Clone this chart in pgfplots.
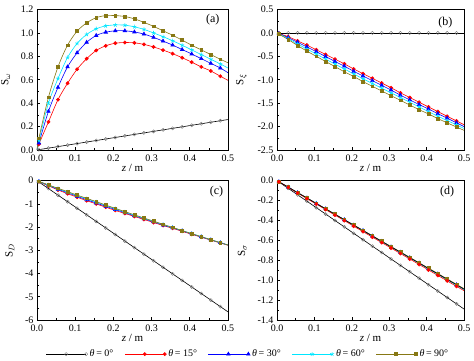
\documentclass[border=0pt]{standalone}
\usepackage{pgfplots}
\pgfplotsset{compat=1.18}
\usepackage{pgfplotstable}
\usepackage{fontspec}
\setmainfont{Liberation Serif}
\definecolor{olv}{RGB}{135,120,20}
\definecolor{cyn}{RGB}{0,230,255}

\pgfplotstableread{
z a0 a15 a30 a60 a90
0 0 0 0 0 0
0.005 0.003 0.05 0.06 0.08 0.10
0.03 0.016 0.24 0.33 0.40 0.45
0.055 0.029 0.43 0.535 0.61 0.71
0.08 0.042 0.57 0.71 0.79 0.895
0.105 0.055 0.69 0.83 0.91 1.015
0.13 0.068 0.78 0.92 0.987 1.086
0.155 0.081 0.85 0.978 1.035 1.13
0.18 0.094 0.89 1.006 1.06 1.148
0.205 0.107 0.912 1.018 1.068 1.148
0.23 0.120 0.918 1.018 1.066 1.14
0.255 0.133 0.915 1.008 1.052 1.12
0.28 0.146 0.902 0.99 1.03 1.09
0.305 0.159 0.88 0.962 1.0 1.056
0.33 0.172 0.853 0.93 0.968 1.018
0.355 0.185 0.823 0.896 0.933 0.98
0.38 0.198 0.788 0.858 0.895 0.938
0.405 0.211 0.75 0.82 0.855 0.895
0.43 0.224 0.71 0.78 0.815 0.855
0.455 0.237 0.675 0.74 0.775 0.815
0.48 0.250 0.63 0.70 0.735 0.775
0.5 0.26 0.595 0.66 0.70 0.745
}\tabA

\pgfplotstableread{
z b0 b15 b30 b60 b90
0 0 0 0 0 0
0.005 0 -0.01 -0.015 -0.02 -0.025
0.03 0 -0.08 -0.10 -0.12 -0.14
0.055 0 -0.17 -0.20 -0.235 -0.27
0.08 0 -0.26 -0.30 -0.345 -0.39
0.105 0 -0.36 -0.40 -0.45 -0.50
0.13 0 -0.46 -0.505 -0.56 -0.61
0.155 0 -0.56 -0.61 -0.665 -0.72
0.18 0 -0.66 -0.71 -0.77 -0.83
0.205 0 -0.77 -0.82 -0.875 -0.93
0.23 0 -0.87 -0.92 -0.98 -1.04
0.255 0 -0.97 -1.02 -1.08 -1.14
0.28 0 -1.07 -1.12 -1.18 -1.24
0.305 0 -1.17 -1.22 -1.28 -1.34
0.33 0 -1.28 -1.33 -1.38 -1.44
0.355 0 -1.38 -1.43 -1.48 -1.54
0.38 0 -1.48 -1.53 -1.58 -1.64
0.405 0 -1.58 -1.625 -1.68 -1.73
0.43 0 -1.68 -1.725 -1.78 -1.83
0.455 0 -1.78 -1.82 -1.87 -1.92
0.48 0 -1.88 -1.92 -1.965 -2.01
0.5 0 -1.96 -2.0 -2.04 -2.08
}\tabB

\pgfplotstableread{
z c0 c15 c30 c60 c90
0 0 0 0 0 0
0.005 -0.057 -0.04 -0.035 -0.033 -0.03
0.03 -0.339 -0.22 -0.20 -0.19 -0.18
0.055 -0.622 -0.40 -0.37 -0.35 -0.33
0.08 -0.904 -0.56 -0.52 -0.49 -0.47
0.105 -1.187 -0.71 -0.67 -0.64 -0.62
0.13 -1.469 -0.86 -0.82 -0.78 -0.76
0.155 -1.752 -1.00 -0.96 -0.92 -0.90
0.18 -2.034 -1.14 -1.10 -1.07 -1.05
0.205 -2.317 -1.28 -1.24 -1.21 -1.19
0.23 -2.599 -1.41 -1.38 -1.35 -1.33
0.255 -2.882 -1.54 -1.51 -1.49 -1.47
0.28 -3.164 -1.67 -1.64 -1.62 -1.61
0.305 -3.447 -1.80 -1.77 -1.75 -1.74
0.33 -3.729 -1.93 -1.91 -1.89 -1.88
0.355 -4.012 -2.05 -2.03 -2.02 -2.01
0.38 -4.294 -2.18 -2.16 -2.15 -2.15
0.405 -4.577 -2.31 -2.29 -2.28 -2.28
0.43 -4.859 -2.43 -2.42 -2.41 -2.41
0.455 -5.142 -2.56 -2.55 -2.54 -2.54
0.48 -5.424 -2.68 -2.67 -2.67 -2.67
0.5 -5.65 -2.78 -2.77 -2.77 -2.77
}\tabC

\pgfplotstableread{
z d0 d15 d30 d60 d90
0 0 0 0 0 0
0.005 -0.013 -0.011 -0.011 -0.011 -0.011
0.03 -0.077 -0.067 -0.065 -0.066 -0.065
0.055 -0.142 -0.124 -0.120 -0.121 -0.119
0.08 -0.206 -0.180 -0.174 -0.175 -0.173
0.105 -0.271 -0.235 -0.229 -0.230 -0.228
0.13 -0.335 -0.290 -0.283 -0.285 -0.282
0.155 -0.400 -0.346 -0.338 -0.339 -0.336
0.18 -0.464 -0.401 -0.392 -0.394 -0.391
0.205 -0.529 -0.457 -0.447 -0.449 -0.445
0.23 -0.593 -0.512 -0.501 -0.504 -0.499
0.255 -0.658 -0.567 -0.556 -0.558 -0.553
0.28 -0.722 -0.622 -0.610 -0.613 -0.608
0.305 -0.787 -0.677 -0.665 -0.668 -0.662
0.33 -0.851 -0.732 -0.719 -0.723 -0.716
0.355 -0.916 -0.787 -0.774 -0.777 -0.770
0.38 -0.980 -0.842 -0.828 -0.832 -0.825
0.405 -1.045 -0.897 -0.883 -0.887 -0.879
0.43 -1.109 -0.952 -0.937 -0.942 -0.933
0.455 -1.174 -1.007 -0.992 -0.996 -0.987
0.48 -1.238 -1.062 -1.046 -1.051 -1.042
0.5 -1.290 -1.105 -1.090 -1.095 -1.085
}\tabD

\pgfplotsset{
  panel/.style={
    scale only axis,
    xmin=0, xmax=0.5,
    xtick={0,0.1,...,0.5},
    minor x tick num=1,
    minor y tick num=1,
    tick align=inside,
    xtick pos=left, ytick pos=left,
    axis line style={line width=0.8pt},
    major tick length=3pt, minor tick length=1.8pt,
    every tick/.style={black, line width=0.6pt},
    tick label style={font=\fontsize{10}{12}\selectfont},
    label style={font=\fontsize{11}{13}\selectfont},
    /pgf/number format/assume math mode=true,
    xticklabel style={yshift=-1.5pt, /pgf/number format/.cd, fixed, fixed zerofill, precision=1},
    xlabel={\textit{z} / m},
    xlabel style={yshift=4pt},
    ylabel style={yshift=4pt},
    legend image code/.code={\draw[mark repeat=2,mark phase=2] plot coordinates {(0pt,0pt) (20pt,0pt) (40pt,0pt)};},
  },
  s0/.style={black, line width=0.6pt, mark=o, mark size=1.6pt, mark options={draw=black!55, line width=0.4pt}, mark indices={2,...,21}},
  s15/.style={red, line width=0.6pt, mark=*, mark size=1.6pt, mark indices={2,...,21}},
  s30/.style={blue, line width=0.6pt, mark=triangle*, mark size=2pt, mark indices={2,...,21}},
  s60/.style={cyn, line width=0.6pt, mark=star, mark size=2.1pt, mark indices={2,...,21}},
  s90/.style={olv, line width=0.6pt, mark=square*, mark size=1.4pt, mark indices={2,...,21}},
}

\begin{document}
\begin{tikzpicture}
\path[use as bounding box] (0pt,0pt) rectangle (474pt,361pt);

% (a)
\begin{axis}[panel, at={(37pt,211pt)}, anchor=south west, width=191pt, height=140.5pt,
  ymin=0, ymax=1.2, ytick={0,0.2,...,1.2},
  yticklabel style={/pgf/number format/.cd, fixed, fixed zerofill, precision=1},
  ylabel={$\mathrm{S}_{\omega}$}]
\addplot[s0] table[x=z,y=a0] {\tabA};
\addplot[s15, smooth] table[x=z,y=a15] {\tabA};
\addplot[s30, smooth] table[x=z,y=a30] {\tabA};
\addplot[s60, smooth] table[x=z,y=a60] {\tabA};
\addplot[s90, smooth] table[x=z,y=a90] {\tabA};
\node[font=\fontsize{12}{14}\selectfont] at (rel axis cs:0.92,0.93) {(a)};
\end{axis}

% (b)
\begin{axis}[panel, at={(277pt,211pt)}, anchor=south west, width=187pt, height=140.5pt,
  ymin=-2.5, ymax=0.5, ytick={-2.5,-2,...,0.5},
  yticklabel style={/pgf/number format/.cd, fixed, fixed zerofill, precision=1},
  ylabel={$\mathrm{S}_{\xi}$}]
\addplot[s0] table[x=z,y=b0] {\tabB};
\addplot[s15] table[x=z,y=b15] {\tabB};
\addplot[s30] table[x=z,y=b30] {\tabB};
\addplot[s60] table[x=z,y=b60] {\tabB};
\addplot[s90] table[x=z,y=b90] {\tabB};
\node[font=\fontsize{12}{14}\selectfont] at (rel axis cs:0.9,0.91) {(b)};
\end{axis}

% (c)
\begin{axis}[panel, at={(37pt,41pt)}, anchor=south west, width=191pt, height=139.3pt,
  ymin=-6, ymax=0, ytick={-6,-5,...,0},
  ylabel={$\mathrm{S}_{D}$},
  legend columns=5,
  legend style={draw=none, fill=none, at={(1.105,-0.245)}, anchor=center,
    font=\fontsize{10}{12}\selectfont, /tikz/every even column/.append style={column sep=9pt}},
  ]
\addplot[s0] table[x=z,y=c0] {\tabC};
\addlegendentry{\textit{θ}\,= 0°}
\addplot[s15] table[x=z,y=c15] {\tabC};
\addlegendentry{\textit{θ}\,= 15°}
\addplot[s30] table[x=z,y=c30] {\tabC};
\addlegendentry{\textit{θ}\,= 30°}
\addplot[s60] table[x=z,y=c60] {\tabC};
\addlegendentry{\textit{θ}\,= 60°}
\addplot[s90] table[x=z,y=c90] {\tabC};
\addlegendentry{\textit{θ}\,= 90°}
\node[font=\fontsize{12}{14}\selectfont] at (rel axis cs:0.94,0.92) {(c)};
\end{axis}

% (d)
\begin{axis}[panel, at={(277pt,41pt)}, anchor=south west, width=187pt, height=139.3pt,
  ymin=-1.4, ymax=0, ytick={-1.4,-1.2,...,0},
  yticklabel style={/pgf/number format/.cd, fixed, fixed zerofill, precision=1},
  ylabel={$\mathrm{S}_{\sigma}$}]
\addplot[s0] table[x=z,y=d0] {\tabD};
\addplot[s30] table[x=z,y=d30] {\tabD};
\addplot[s60] table[x=z,y=d60] {\tabD};
\addplot[s90] table[x=z,y=d90] {\tabD};
\addplot[s15] table[x=z,y=d15] {\tabD};
\addplot[black, line width=0.6pt] table[x=z,y=d30] {\tabD};
\node[font=\fontsize{12}{14}\selectfont] at (rel axis cs:0.91,0.92) {(d)};
\end{axis}
\end{tikzpicture}
\end{document}
